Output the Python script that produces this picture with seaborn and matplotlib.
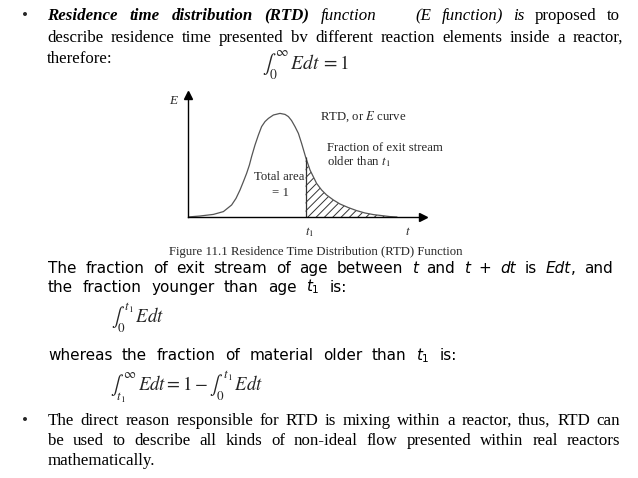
import seaborn as sns
import matplotlib.pyplot as plt
import numpy as np
import pandas as pd

# E curve (t and E in arbitrary units)
t_vals = [0.0, 0.6, 1.27, 1.77, 2.18, 2.4, 2.6, 2.77, 2.93, 3.07, 3.18, 3.35,
          3.52, 3.68, 3.85, 4.02, 4.27, 4.6, 4.85, 5.02, 5.18, 5.35, 5.52, 5.68,
          5.88, 6.1, 6.43, 6.68, 6.93, 7.27, 7.6, 8.02, 8.43, 8.85, 9.27, 10.1, 10.45]
e_vals = [0.0, 0.05, 0.13, 0.27, 0.6, 0.93, 1.35, 1.77, 2.18, 2.6, 3.02, 3.6,
          4.1, 4.52, 4.77, 4.93, 5.1, 5.18, 5.13, 5.02, 4.82, 4.52, 4.18, 3.68,
          3.0, 2.35, 1.68, 1.35, 1.1, 0.85, 0.65, 0.47, 0.32, 0.2, 0.12, 0.02, 0.0]
t1 = 5.88

SERIF = 'Liberation Serif'
SANS = 'DejaVu Sans'

sns.set_theme(style="white")
plt.rcParams['font.family'] = [SERIF, 'DejaVu Sans']
plt.rcParams['hatch.linewidth'] = 0.7

fig = plt.figure(figsize=(6.38, 4.78), dpi=100)
fig.patch.set_facecolor('white')

# background axes in pixel coordinates for all the slide text
bg = fig.add_axes([0, 0, 1, 1])
bg.set_xlim(0, 638)
bg.set_ylim(478, 0)
bg.axis('off')

renderer = fig.canvas.get_renderer()

N = {}
I = {'style': 'italic'}
BI = {'style': 'italic', 'weight': 'bold'}
BODY = 12.2


def put_line(words, x0, y, x1=None, size=BODY, family=SERIF):
    # words: list of words, each a list of (text, kwargs) pieces
    placed = []
    widths = []
    for word in words:
        segs = []
        w = 0
        for txt, kw in word:
            kw = dict(kw)
            if '$' in txt:
                kw.setdefault('math_fontfamily', 'dejavusans' if family == SANS else 'stix')
            t = bg.text(0, y, txt, fontsize=size, family=family,
                        va='baseline', ha='left', color='black', **kw)
            sw = t.get_window_extent(renderer=renderer).width
            segs.append((t, sw))
            w += sw
        placed.append(segs)
        widths.append(w)
    if x1 is None or len(words) < 2:
        gap = size * 100 / 72 * 0.25
    else:
        gap = (x1 - x0 - sum(widths)) / (len(words) - 1)
    x = x0
    for segs, w in zip(placed, widths):
        xs = x
        for t, sw in segs:
            t.set_x(xs)
            xs += sw
        x += w + gap


def plain(s, kw=N):
    return [[(w, kw)] for w in s.split()]


# ---- top bullet ----
bg.text(22, 20, '•', fontsize=BODY, family=SERIF, va='baseline')
put_line(plain('Residence time distribution (RTD)', BI) + [[('function', I)]], 47, 20, 377)
put_line(plain('(E function) is', I) + plain('proposed to'), 415, 20, 620)
put_line(plain('describe residence time presented bv different reaction elements inside a reactor,'),
         47, 41.7, 623)
put_line(plain('therefore:'), 47, 63)
bg.text(262, 66, r'$\int_{0}^{\infty}\,Edt\,=1$', fontsize=14, family=SERIF,
        math_fontfamily='stix', va='center', ha='left')

# ---- RTD chart ----
ax = fig.add_axes([188 / 638, 1 - 217 / 478, (423 - 188) / 638, (217 - 95) / 478])
df = pd.DataFrame({'t': t_vals, 'E': e_vals})
sns.lineplot(data=df, x='t', y='E', ax=ax, color='#555555', lw=0.9, sort=False)
tail = df[df['t'] >= t1]
ax.fill_between(tail['t'], 0, tail['E'], facecolor='none', edgecolor='#333333',
                hatch='////', linewidth=0)
e_t1 = df.loc[df['t'] == t1, 'E'].iloc[0]
ax.vlines(t1, 0, e_t1, color='#333333', lw=0.9)
ax.set_xlim(0, 11.75)
ax.set_ylim(0, 6.1)
ax.set_xlabel('')
ax.set_ylabel('')
ax.set_xticks([])
ax.set_yticks([])
ax.patch.set_alpha(0)
for name, spine in ax.spines.items():
    if name in ('left', 'bottom'):
        spine.set_visible(True)
        spine.set_color('black')
        spine.set_linewidth(1.0)
    else:
        spine.set_visible(False)
ax.plot(1, 0, '>', color='black', ms=6, transform=ax.get_yaxis_transform(), clip_on=False)
ax.plot(0, 1, '^', color='black', ms=6, transform=ax.get_xaxis_transform(), clip_on=False)

cs = 9.2
bg.text(173, 101, 'E', fontsize=9.5, family=SERIF, style='italic', ha='center', va='center')
bg.text(320, 117, r'RTD, or $E$ curve', fontsize=cs, family=SERIF,
        math_fontfamily='stix', va='center')
bg.text(327, 148, 'Fraction of exit stream', fontsize=cs, family=SERIF, va='center')
bg.text(327, 162, r'older than $t_1$', fontsize=cs, family=SERIF,
        math_fontfamily='stix', va='center')
bg.text(254, 177, 'Total area', fontsize=cs, family=SERIF, va='center')
bg.text(280, 193, '= 1', fontsize=cs, family=SERIF, va='center', ha='center')
bg.text(310, 232, r'$t_1$', fontsize=cs, math_fontfamily='stix', ha='center', va='center')
bg.text(408, 232, r'$t$', fontsize=cs, math_fontfamily='stix', ha='center', va='center')
bg.text(316, 252, 'Figure 11.1 Residence Time Distribution (RTD) Function',
        fontsize=cs, family=SERIF, ha='center', va='center')

# ---- sans-serif paragraph ----
ss = 11
words = plain('The fraction of exit stream of age between') + [[('t', I)]] + plain('and') + \
    [[('t', I)], [('+', N)], [('dt', I)]] + plain('is') + [[('Edt', I), (',', N)]] + plain('and')
put_line(words, 48, 272.7, 613, size=ss, family=SANS)
put_line(plain('the fraction younger than age') + [[('$t_1$', N)]] + plain('is:'),
         48, 291.7, 347, size=ss, family=SANS)
put_line(plain('whereas the fraction of material older than') + [[('$t_1$', N)]] + plain('is:'),
         48, 360, 457, size=ss, family=SANS)
bg.text(111, 318, r'$\int_{0}^{t_1}\,Edt$', fontsize=13.5, math_fontfamily='stix',
        va='center', ha='left')
bg.text(110, 387, r'$\int_{t_1}^{\infty}\,Edt = 1 - \int_{0}^{t_1}\,Edt$', fontsize=13.5,
        math_fontfamily='stix', va='center', ha='left')

# ---- bottom bullet ----
bg.text(22, 425, '•', fontsize=BODY, family=SERIF, va='baseline')
put_line(plain('The direct reason responsible for RTD is mixing within a reactor, thus, RTD can'),
         47.7, 425, 620)
put_line(plain('be used to describe all kinds of non-ideal flow presented within real reactors'),
         47.7, 445, 620)
put_line(plain('mathematically.'), 47.7, 465)

fig.savefig('out.png', dpi=100)
